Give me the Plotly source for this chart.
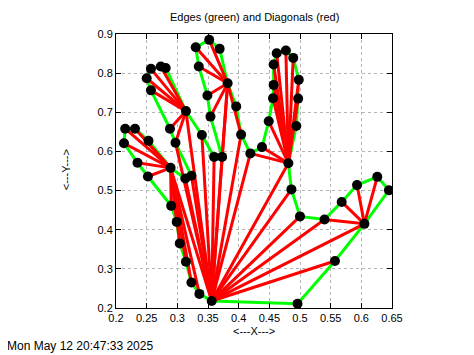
import plotly.graph_objects as go

# Polygon vertices (in boundary order)
vx = [0.356, 0.496, 0.557, 0.605, 0.645, 0.626, 0.593, 0.568, 0.540, 0.500,
      0.486, 0.481, 0.494, 0.497, 0.498, 0.489, 0.477, 0.462, 0.457, 0.457,
      0.456, 0.449, 0.438, 0.419, 0.404, 0.396, 0.382, 0.369, 0.352, 0.330,
      0.335, 0.349, 0.354, 0.373, 0.360, 0.340, 0.314, 0.281, 0.273, 0.257,
      0.250, 0.257, 0.288, 0.297, 0.323, 0.313, 0.289, 0.253, 0.231, 0.215,
      0.213, 0.235, 0.252, 0.290, 0.299, 0.304, 0.314, 0.323, 0.336]
vy = [0.218, 0.211, 0.320, 0.415, 0.501, 0.535, 0.514, 0.471, 0.426, 0.434,
      0.503, 0.570, 0.665, 0.735, 0.783, 0.839, 0.858, 0.851, 0.822, 0.770,
      0.736, 0.677, 0.611, 0.595, 0.643, 0.715, 0.774, 0.862, 0.885, 0.866,
      0.817, 0.743, 0.689, 0.586, 0.586, 0.642, 0.703, 0.813, 0.817, 0.811,
      0.787, 0.756, 0.658, 0.622, 0.538, 0.531, 0.558, 0.627, 0.658, 0.658,
      0.621, 0.571, 0.536, 0.461, 0.420, 0.365, 0.318, 0.265, 0.236]

# Diagonals as vertex index pairs
diag_a = [0, 0, 3, 3, 3, 3, 0, 0, 0, 0,
          11, 11, 11, 11, 11, 11, 11, 11, 11, 11, 11,
          0, 0,
          26, 26, 26, 26, 26, 26, 26, 26,
          0, 0, 0, 0,
          36, 36, 36, 36, 36, 36,
          0, 0, 0, 0,
          46, 46, 46, 46, 46,
          46, 46, 46, 46, 46, 46]
diag_b = [2, 3, 5, 6, 7, 8, 8, 9, 10, 11,
          13, 14, 15, 16, 17, 18, 19, 20, 21, 22, 23,
          23, 24,
          24, 28, 29, 30, 31, 32, 33, 0,
          33, 34, 35, 36,
          38, 39, 40, 41, 42, 43,
          43, 44, 45, 46,
          48, 49, 50, 51, 52,
          53, 54, 55, 56, 57, 58]

ex = vx + [vx[0]]
ey = vy + [vy[0]]

dx, dy = [], []
for a, b in zip(diag_a, diag_b):
    dx += [vx[a], vx[b], None]
    dy += [vy[a], vy[b], None]

fig = go.Figure()
fig.add_trace(go.Scatter(x=ex, y=ey, mode="lines",
                         line=dict(color="#00ff00", width=3), hoverinfo="skip"))
fig.add_trace(go.Scatter(x=dx, y=dy, mode="lines",
                         line=dict(color="#ff0000", width=3), hoverinfo="skip"))
fig.add_trace(go.Scatter(x=vx, y=vy, mode="markers",
                         marker=dict(color="black", size=10), hoverinfo="skip"))

OFF = 8  # page body margin
FW, FH = 474 - OFF, 355 - OFF
PW, PH = 276.0, 274.5
L, T = 116 - OFF, 33.5 - OFF
font = dict(family="Liberation Sans, Arial, sans-serif", size=11, color="black")

def px_x(px):
    return (px - OFF - L) / PW

def px_y(py):
    return (T + PH - (py - OFF)) / PH

fig.update_layout(
    width=FW, height=FH,
    margin=dict(l=L, r=FW - L - PW, t=T, b=FH - T - PH, pad=0),
    paper_bgcolor="white", plot_bgcolor="white",
    showlegend=False, font=font,
    xaxis=dict(range=[0.2, 0.65], dtick=0.05, tick0=0.2, showgrid=True,
               gridcolor="#b4b4b4", griddash="dot", gridwidth=1,
               showline=True, linecolor="black", linewidth=1, mirror="ticks",
               ticks="inside", ticklen=5, tickcolor="black", zeroline=False,
               tickfont=font, fixedrange=True),
    yaxis=dict(range=[0.2, 0.9], dtick=0.1, tick0=0.2, showgrid=True,
               gridcolor="#b4b4b4", griddash="dot", gridwidth=1,
               showline=True, linecolor="black", linewidth=1, mirror="ticks",
               ticks="inside", ticklen=5, tickcolor="black", zeroline=False,
               tickfont=font, fixedrange=True),
    annotations=[
        dict(text="Edges (green) and Diagonals (red)", xref="paper", yref="paper",
             x=0.5, y=px_y(16), xanchor="center", yanchor="middle",
             showarrow=False, font=font),
        dict(text="<---X--->", xref="paper", yref="paper",
             x=0.5, y=px_y(331), xanchor="center", yanchor="middle",
             showarrow=False, font=font),
        dict(text="<---Y--->", xref="paper", yref="paper",
             x=px_x(66), y=px_y(170), xanchor="center", yanchor="middle",
             textangle=-90, showarrow=False, font=font),
        dict(text="Mon May 12 20:47:33 2025", xref="paper", yref="paper",
             x=px_x(5), y=px_y(346), xanchor="left", yanchor="middle",
             showarrow=False, font=dict(family=font["family"], size=12, color="black")),
    ],
)

fig.write_html("out.html")
